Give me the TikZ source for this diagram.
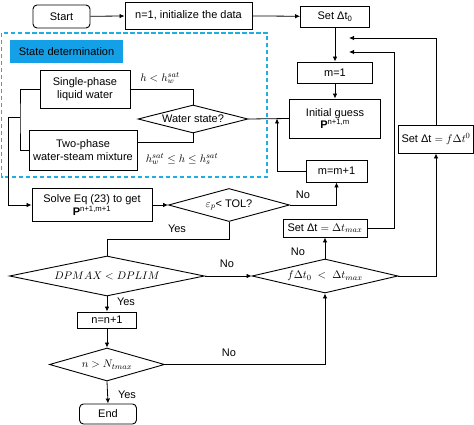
\documentclass[tikz,border=0pt]{standalone}
\usepackage{fontspec}
\setmainfont{Liberation Sans}
\usetikzlibrary{shapes.geometric,arrows.meta}
\definecolor{dashblue}{RGB}{30,175,225}
\definecolor{tagblue}{RGB}{20,160,230}

\begin{document}
\begin{tikzpicture}[x=1pt, y=-1pt,
		font=\fontsize{11}{12.5}\selectfont,
		box/.style={draw, line width=0.9pt, inner sep=1pt, align=center},
		term/.style={box, rounded corners=4pt},
		cond/.style={draw, diamond, line width=0.9pt, inner sep=0pt},
		arr/.style={-{Latex[length=5pt,width=4.5pt]}, line width=0.8pt},
		line/.style={line width=0.8pt}]
		\useasboundingbox (0,0) rectangle (474,425);
		% state determination frame
		\draw[draw=dashblue, line width=1.3pt, dash pattern=on 4.5pt off 2.5pt] (1.5,33) rectangle (267,177);
		\node[fill=tagblue, minimum width=113, minimum height=23] (tag) at (66.5,51.5) {State determination};
		% boxes
		\node[term, minimum width=57, minimum height=23] (start) at (61.5,16.5) {Start};
		\node[box, minimum width=127, minimum height=27] (init) at (188.5,15.5) {n=1, initialize the data};
		\node[box, minimum width=69, minimum height=21] (setdt0) at (335,16.5) {Set Δt\textsubscript{0}};
		\node[box, minimum width=75, minimum height=21] (mone) at (335,72.5) {m=1};
		\node[box, minimum width=91, minimum height=39] (guess) at (335,118.5) {Initial guess\\\textbf{P}\textsuperscript{n+1,m}};
		\node[box, minimum width=75, minimum height=28] (setdtf) at (436,139) {Set Δt $= f\Delta t^0$};
		\node[box, minimum width=61, minimum height=22] (mmone) at (336.5,171) {m=m+1};
		\node[box, minimum width=84, minimum height=18] (setdtmax) at (325,228) {Set Δt $= \Delta t_{max}$};
		\node[cond, minimum width=146, minimum height=34, aspect=4.3] (dtdiam) at (325,276) {$f\Delta t_0 \;<\; \Delta t_{max}$};
		\node[box, minimum width=90, minimum height=38] (single) at (85,89) {Single-phase\\liquid water};
		\node[box, minimum width=108, minimum height=40] (twophase) at (83,150) {Two-phase\\water-steam mixture};
		\node[cond, minimum width=110, minimum height=28, aspect=3.9] (water) at (193,119) {Water state?};
		\node[box, minimum width=120, minimum height=33] (solve) at (92,205) {Solve Eq (23) to get\\\textbf{P}\textsuperscript{n+1,m+1}};
		\node[cond, minimum width=121, minimum height=33, aspect=3.7] (tol) at (229,205) {$\varepsilon_p$< TOL?};
		\node[cond, minimum width=195, minimum height=40, aspect=4.9] (dpmax) at (107,276) {$DPMAX < DPLIM$};
		\node[box, minimum width=59, minimum height=16] (nplus) at (107,320) {n=n+1};
		\node[cond, minimum width=115, minimum height=33, aspect=3.5] (nmax) at (107,364.5) {$n > N_{tmax}$};
		\node[term, minimum width=57, minimum height=20] (end) at (108,414) {End};
		% labels
		\node (hlow) at (160,78) {$h < h_w^{sat}$};
		\node (hmid) at (182,159) {$h_w^{sat} \le h \le h_s^{sat}$};
		\node (notol) at (303,195) {No};
		\node (yestol) at (177,229) {Yes};
		\node (nodt) at (298,252) {No};
		\node (nodp) at (227,264) {No};
		\node (yesdp) at (126,302) {Yes};
		\node (non) at (229,353) {No};
		\node (yesn) at (127,395) {Yes};
		% joints
		\coordinate (j1) at (349,38);
		\coordinate (j2) at (349,52);
		\coordinate (r2) at (394,52);
		\coordinate (g1) at (277,118.5);
		\coordinate (w2) at (193,142);
		\coordinate (k1) at (20,117);
		\coordinate (k2) at (8,117);
		\coordinate (b1) at (229,239);
		% connectors
		\draw[arr] (start) -- (init);
		\draw[arr] (init) -- (setdt0);
		\draw[arr] (setdt0) -- (mone);
		\draw[arr] (mone) -- (guess);
		\draw[arr] (setdtf.north) |- (j1);
		\draw[arr] (setdtmax.east) -| (r2) -- (j2);
		\draw[arr] (dtdiam.east) -| (setdtf.south);
		\draw[arr] (dtdiam.north) -- (setdtmax.south);
		\draw[arr] (dpmax.east) -- (dtdiam.west);
		\draw[arr] (dpmax.south) -- (nplus.north);
		\draw[arr] (nplus) -- (nmax);
		\draw[arr] (nmax.south) -- (end.north);
		\draw[arr] (nmax.east) -| (dtdiam.south);
		\draw[line] (tol.south) -- (b1) -| (dpmax.north);
		\draw[arr] (tol.east) -| (mmone.south);
		\draw[arr] (mmone.west) -| (g1);
		\draw[line] (water.east) -- (guess.west);
		\draw[line] (water.north) |- (single.east);
		\draw[line] (water.south) -- (w2) -- (w2 -| twophase.east);
		\draw[line] (single.west) -| (k1) |- (twophase.west);
		\draw[arr] (k1) -- (k2) |- (solve.west);
		\draw[arr] (solve) -- (tol);
	\end{tikzpicture}
\end{document}
